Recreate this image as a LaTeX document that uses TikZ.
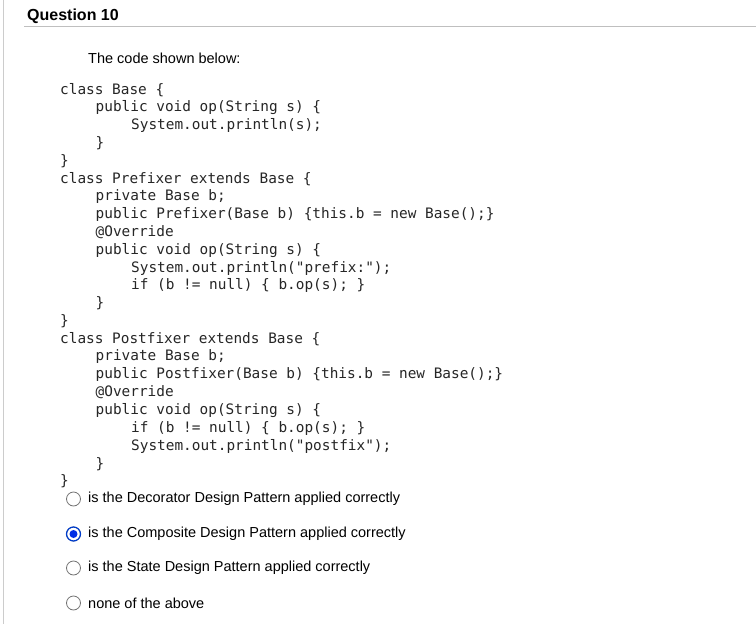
\documentclass[tikz,border=0pt]{standalone}
\usepackage{fontspec}
\setmainfont{Liberation Sans}
\newfontfamily\codefont{DejaVu Sans Mono}
\begin{document}
\begin{tikzpicture}[x=1pt,y=-1pt,
  code/.style={anchor=west,inner sep=0pt,font=\codefont\fontsize{14.4}{16}\selectfont,text=black!85},
  opt/.style={anchor=west,inner sep=0pt,font=\fontsize{14.5}{16}\selectfont},
  radio/.style={circle,draw=black!55,line width=0.8pt,minimum size=14pt,inner sep=0pt}]
\useasboundingbox[fill=white] (0,0) rectangle (756,624);
\draw[black!20,line width=1pt] (3,0) -- (3,624);
\draw[black!25,line width=1pt] (24,26.5) -- (756,26.5);
\node[anchor=west,inner sep=0pt,font=\bfseries\fontsize{16}{18}\selectfont] (title) at (27,16) {Question 10};
\node[anchor=west,inner sep=0pt,font=\fontsize{14.5}{16}\selectfont] (intro) at (88,58) {The code shown below:};
\foreach \i/\ind/\t in {
0/0/{class Base \{},
1/1/{public void op(String s) \{},
2/2/{System.out.println(s);},
3/1/{\}},
4/0/{\}},
5/0/{class Prefixer extends Base \{},
6/1/{private Base b;},
7/1/{public Prefixer(Base b) \{this.b = new Base();\}},
8/1/{@Override},
9/1/{public void op(String s) \{},
10/2/{System.out.println("prefix:");},
11/2/{if (b != null) \{ b.op(s); \}},
12/1/{\}},
13/0/{\}},
14/0/{class Postfixer extends Base \{},
15/1/{private Base b;},
16/1/{public Postfixer(Base b) \{this.b = new Base();\}},
17/1/{@Override},
18/1/{public void op(String s) \{},
19/2/{if (b != null) \{ b.op(s); \}},
20/2/{System.out.println("postfix");},
21/1/{\}},
22/0/{\}}}
  \node[code] (c\i) at ({60+35.5*\ind},{90+17.8*\i}) {\t};
\foreach \i/\y/\t in {1/499/{is the Decorator Design Pattern applied correctly},
  2/534/{is the Composite Design Pattern applied correctly},
  3/568/{is the State Design Pattern applied correctly},
  4/603/{none of the above}}{
  \node[radio] (r\i) at (73.5,\y) {};
  \node[opt] (o\i) at (88,\y) {\t};
}
\fill[blue!80!cyan!90!black] (r2) circle (4pt);
\draw[blue!70!cyan!80!black,line width=1.2pt] (r2) circle (7pt);
\end{tikzpicture}
\end{document}
